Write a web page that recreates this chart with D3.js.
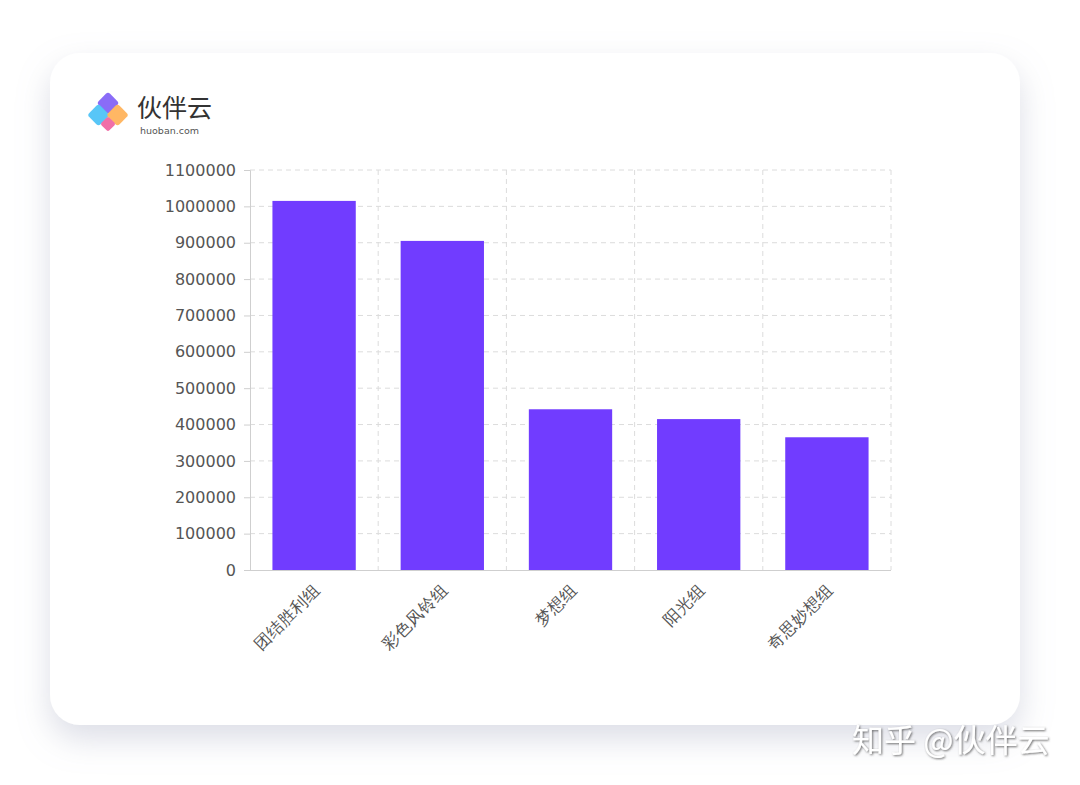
<!DOCTYPE html>
<html><head><meta charset="utf-8">
<script src="https://cdn.jsdelivr.net/npm/d3@7"></script>
<style>
html,body{margin:0;padding:0;background:#fff;}
svg{display:block;font-family:"Noto Sans CJK SC","DejaVu Sans",sans-serif;}
</style></head>
<body>
<svg id="c" width="1080" height="785"></svg>
<script>
const categories = ["团结胜利组","彩色风铃组","梦想组","阳光组","奇思妙想组"];
const values = [1015000, 905000, 442000, 415000, 365000];
const yTicks = [0,100000,200000,300000,400000,500000,600000,700000,800000,900000,1000000,1100000];

const svg = d3.select("#c");
const defs = svg.append("defs");
const f = defs.append("filter").attr("id","sh").attr("x","-20%").attr("y","-20%").attr("width","140%").attr("height","150%");
f.append("feDropShadow").attr("dx",0).attr("dy",14).attr("stdDeviation",16).attr("flood-color","#9aa0b8").attr("flood-opacity",0.35);
const tf = defs.append("filter").attr("id","tsh");
tf.append("feDropShadow").attr("dx",1).attr("dy",1).attr("stdDeviation",0.8).attr("flood-color","#555").attr("flood-opacity",0.85);

svg.append("rect").attr("x",50).attr("y",53).attr("width",970).attr("height",672).attr("rx",30)
  .attr("fill","#fff").attr("filter","url(#sh)");

// logo
const lg = svg.append("g").attr("transform","translate(108,112)");
const sq = 16;
lg.append("rect").attr("x",-sq/2).attr("y",-sq/2).attr("width",sq).attr("height",sq).attr("rx",3)
  .attr("transform","translate(0,-9) rotate(45)").attr("fill","#8a6cf7");
lg.append("rect").attr("x",-sq/2).attr("y",-sq/2).attr("width",sq).attr("height",sq).attr("rx",3)
  .attr("transform","translate(-9.5,3) rotate(45)").attr("fill","#4fc3f7").attr("opacity",0.95);
lg.append("rect").attr("x",-sq/2).attr("y",-sq/2).attr("width",sq).attr("height",sq).attr("rx",3)
  .attr("transform","translate(9.5,3) rotate(45)").attr("fill","#ffb35c").attr("opacity",0.95);
lg.append("rect").attr("x",-5.5).attr("y",-5.5).attr("width",11).attr("height",11).attr("rx",2)
  .attr("transform","translate(0,12) rotate(45)").attr("fill","#f06fa8");
svg.append("text").attr("x",137).attr("y",117).attr("font-size",25).attr("fill","#333").text("伙伴云");
svg.append("text").attr("x",140).attr("y",134).attr("font-size",9.5).attr("fill","#555").attr("font-family","DejaVu Sans").text("huoban.com");

const x0=250, x1=891, yT=170, yB=570;
const x = d3.scaleBand().domain(categories).range([x0,x1]).paddingInner(0.35).paddingOuter(0.175);
const y = d3.scaleLinear().domain([0,1100000]).range([yB,yT]);

const g = svg.append("g");
// horizontal grid
g.selectAll(".hg").data(yTicks.slice(1)).join("line")
  .attr("x1",x0).attr("x2",x1).attr("y1",d=>y(d)).attr("y2",d=>y(d))
  .attr("stroke","#dcdcdc").attr("stroke-dasharray","5,4");
// vertical grid
const step = (x1-x0)/categories.length;
g.selectAll(".vg").data(d3.range(1,categories.length+1)).join("line")
  .attr("x1",i=>x0+i*step).attr("x2",i=>x0+i*step).attr("y1",yT).attr("y2",yB)
  .attr("stroke","#dcdcdc").attr("stroke-dasharray","5,4");

// bars
g.selectAll(".bar").data(values).join("rect")
  .attr("x",(d,i)=>x(categories[i])).attr("width",x.bandwidth())
  .attr("y",d=>y(d)).attr("height",d=>yB-y(d)).attr("fill","#713cff");

// y axis
const ya = svg.append("g").attr("transform",`translate(${x0},0)`)
  .call(d3.axisLeft(y).tickValues(yTicks).tickFormat(d3.format("d")).tickSize(6).tickPadding(8));
ya.select(".domain").attr("stroke","#cfcfcf");
ya.selectAll(".tick line").attr("stroke","#cfcfcf");
ya.selectAll("text").attr("font-size",16).attr("fill","#555").attr("font-family","DejaVu Sans");

// x axis
const xa = svg.append("g").attr("transform",`translate(0,${yB})`)
  .call(d3.axisBottom(x).tickSize(0).tickPadding(0));
xa.select(".domain").attr("stroke","#cfcfcf").attr("d",`M${x0},0.5H${x1}`);
xa.selectAll("text").attr("font-size",16.5).attr("fill","#555")
  .attr("text-anchor","end").attr("x",0).attr("y",0).attr("dy","0.35em")
  .attr("transform","translate(3,17) rotate(-45)");

// watermark
svg.append("text").attr("x",852).attr("y",752).attr("font-size",32).attr("fill","#fff")
  .attr("filter","url(#tsh)").text("知乎 @伙伴云");
</script>
</body></html>
